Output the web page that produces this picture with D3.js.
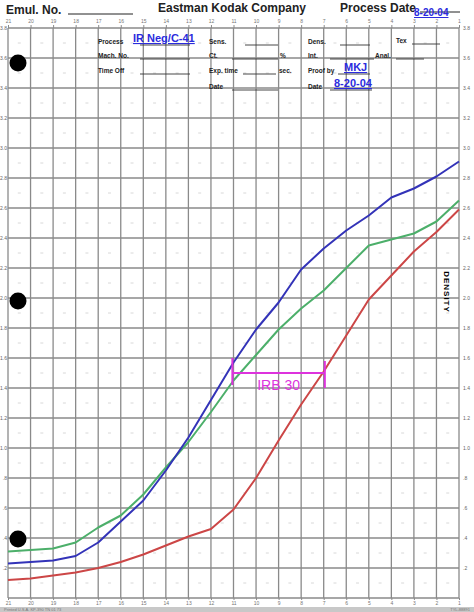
<!DOCTYPE html>
<html>
<head>
<meta charset="utf-8">
<script src="https://cdn.jsdelivr.net/npm/d3@7"></script>
<style>
  body { margin: 0; background: #fff; }
  svg { display: block; }
</style>
</head>
<body>
<div id="chart"></div>
<script>
// step numbers along the top / bottom
var steps = [21, 20, 19, 18, 17, 16, 15, 14, 13, 12, 11, 10, 9, 8, 7, 6, 5, 4, 3, 2, 1]
// density ticks
var densTicks = [0.2, 0.4, 0.6, 0.8, 1.0, 1.2, 1.4, 1.6, 1.8, 2.0, 2.2, 2.4, 2.6, 2.8, 3.0, 3.2, 3.4, 3.6, 3.8]
// densities read for each step (21 -> 1)
var blueDens  = [0.23, 0.24, 0.25, 0.28, 0.37, 0.51, 0.65, 0.85, 1.07, 1.32, 1.57, 1.79, 1.97, 2.19, 2.33, 2.45, 2.55, 2.67, 2.73, 2.81, 2.91]
var greenDens = [0.31, 0.32, 0.33, 0.37, 0.47, 0.55, 0.69, 0.87, 1.04, 1.24, 1.45, 1.62, 1.79, 1.93, 2.05, 2.20, 2.35, 2.39, 2.43, 2.51, 2.65]
var redDens   = [0.12, 0.13, 0.15, 0.17, 0.20, 0.24, 0.29, 0.35, 0.41, 0.46, 0.59, 0.80, 1.05, 1.29, 1.51, 1.75, 1.99, 2.15, 2.31, 2.44, 2.59]
// IRB bracket: density level and the two steps it spans
var irbLevel = 1.5
var irbSteps = [11.05, 6.95]

var w = 474, h = 612
var svg = d3.select("#chart").append("svg").attr("width", w).attr("height", h)

var x = d3.scaleLinear().domain([21, 1]).range([8, 459])
var y = d3.scaleLinear().domain([0, 3.8]).range([598, 28])

var gridCol = "#8a8a8a"
var font = "'Liberation Sans', Arial, sans-serif"

// grid
svg.append("g").selectAll("line.v")
    .data(steps).enter().append("line")
    .attr("x1", d => x(d)).attr("x2", d => x(d))
    .attr("y1", y(3.8)).attr("y2", y(0))
    .attr("stroke", gridCol).attr("stroke-width", 1.3)

svg.append("g").selectAll("line.h")
    .data([0].concat(densTicks)).enter().append("line")
    .attr("x1", x(21)).attr("x2", x(1))
    .attr("y1", d => y(d)).attr("y2", d => y(d))
    .attr("stroke", gridCol).attr("stroke-width", 1.3)

// faint half-step tick marks
var minor = []
steps.forEach(function(s) { densTicks.concat([0]).forEach(function(d) { if (s > 1 && d < 3.8) minor.push([s - 0.5, d + 0.1]) }) })
svg.append("g").selectAll("line.m")
    .data(minor).enter().append("line")
    .attr("x1", d => x(d[0]) - 1.5).attr("x2", d => x(d[0]) + 1.5)
    .attr("y1", d => y(d[1])).attr("y2", d => y(d[1]))
    .attr("stroke", "#d8d8d8").attr("stroke-width", 1)

// top and bottom step labels
var gTop = svg.append("g").attr("transform", "translate(0," + y(3.8) + ")")
    .call(d3.axisTop(x).tickValues(steps).tickSize(3).tickPadding(2).tickFormat(d3.format("d")))
var gBot = svg.append("g").attr("transform", "translate(0," + y(0) + ")")
    .call(d3.axisBottom(x).tickValues(steps).tickSize(2).tickPadding(1).tickFormat(d3.format("d")))
;[gTop, gBot].forEach(function(g) {
    g.select(".domain").remove()
    g.selectAll("line").attr("stroke", gridCol)
    g.selectAll("text").attr("font-size", 5).attr("fill", "#777").attr("font-family", font)
})

// density labels, left and right
var densFmt = function(d) { return d < 1 ? d3.format(".1f")(d).replace("0.", ".") : d3.format(".1f")(d) }
var gL = svg.append("g").attr("transform", "translate(" + x(21) + ",0)")
    .call(d3.axisLeft(y).tickValues(densTicks).tickSize(0).tickPadding(1).tickFormat(densFmt))
var gR = svg.append("g").attr("transform", "translate(" + x(1) + ",0)")
    .call(d3.axisRight(y).tickValues(densTicks).tickSize(0).tickPadding(4).tickFormat(densFmt))
;[gL, gR].forEach(function(g) {
    g.select(".domain").remove()
    g.selectAll("text").attr("font-size", 5).attr("fill", "#666").attr("font-family", font)
})

// curves
var line = d3.line().x((d, i) => x(steps[i])).y(d => y(d))
var series = [
    { vals: greenDens, col: "#4caf6a" },
    { vals: redDens, col: "#cc4646" },
    { vals: blueDens, col: "#3333b8" }
]
svg.append("g").selectAll("path")
    .data(series).enter().append("path")
    .attr("d", d => line(d.vals))
    .attr("fill", "none")
    .attr("stroke", d => d.col)
    .attr("stroke-width", 2)
    .attr("stroke-linejoin", "round")

// IRB 30 bracket
var mag = "#dd33dd"
var irb = svg.append("g").attr("stroke", mag).attr("stroke-width", 2)
irb.append("line").attr("x1", x(irbSteps[0])).attr("x2", x(irbSteps[1]))
    .attr("y1", y(irbLevel)).attr("y2", y(irbLevel))
irb.append("line").attr("x1", x(irbSteps[0])).attr("x2", x(irbSteps[0]))
    .attr("y1", y(irbLevel + 0.1)).attr("y2", y(irbLevel - 0.08))
irb.append("line").attr("x1", x(irbSteps[1])).attr("x2", x(irbSteps[1]))
    .attr("y1", y(irbLevel + 0.08)).attr("y2", y(irbLevel - 0.1))
svg.append("text")
    .attr("x", (x(irbSteps[0]) + x(irbSteps[1])) / 2).attr("y", y(irbLevel) + 17)
    .attr("text-anchor", "middle").attr("fill", mag)
    .attr("font-size", 14).attr("font-family", font)
    .text("IRB 30")

// axis title
svg.append("text")
    .attr("transform", "translate(444,292) rotate(90)")
    .attr("text-anchor", "middle")
    .attr("font-size", 8).attr("font-weight", "bold").attr("font-family", font)
    .attr("letter-spacing", 1)
    .text("DENSITY")

// header
var hdr = svg.append("g").attr("font-family", font).attr("font-weight", "bold").attr("fill", "#222")
hdr.append("text").attr("x", 6).attr("y", 14).attr("font-size", 12).text("Emul. No.")
hdr.append("line").attr("x1", 68).attr("x2", 133).attr("y1", 14).attr("y2", 14).attr("stroke", "#222")
hdr.append("text").attr("x", 158).attr("y", 12).attr("font-size", 12).text("Eastman Kodak Company")
hdr.append("text").attr("x", 340).attr("y", 12).attr("font-size", 12).text("Process Date")
hdr.append("line").attr("x1", 420).attr("x2", 460).attr("y1", 12).attr("y2", 12).attr("stroke", "#222")

// form fields inside the grid
var form = [
    { t: "Process", x: 98, y: 44, lx: [140, 190] },
    { t: "Mach. No.", x: 98, y: 58, lx: [140, 190] },
    { t: "Time Off", x: 98, y: 73, lx: [140, 190] },
    { t: "Sens.", x: 209, y: 44, lx: [245, 278] },
    { t: "Ct.", x: 209, y: 58, lx: [232, 278] },
    { t: "Exp. time", x: 209, y: 73, lx: [243, 276] },
    { t: "Date", x: 209, y: 89, lx: [232, 278] },
    { t: "Dens.", x: 308, y: 44, lx: [340, 370] },
    { t: "Int.", x: 308, y: 58, lx: [330, 374] },
    { t: "Proof by", x: 308, y: 73, lx: [338, 370] },
    { t: "Date", x: 308, y: 89, lx: [330, 372] },
    { t: "Tex", x: 396, y: 43, lx: [412, 440] },
    { t: "Anal.", x: 375, y: 58, lx: [396, 424] }
]
var fg = svg.append("g").attr("font-family", font).attr("font-weight", "bold").attr("fill", "#222")
form.forEach(function(f) {
    fg.append("text").attr("x", f.x).attr("y", f.y).attr("font-size", 6.5).text(f.t)
    fg.append("line").attr("x1", f.lx[0]).attr("x2", f.lx[1]).attr("y1", f.y + 1).attr("y2", f.y + 1)
        .attr("stroke", "#333").attr("stroke-width", 0.9)
})
fg.append("text").attr("x", 280).attr("y", 58).attr("font-size", 6.5).text("%")
fg.append("text").attr("x", 279).attr("y", 73).attr("font-size", 6.5).text("sec.")

// handwritten entries (blue)
var ink = "#2b2bdd"
var hw = [
    { t: "IR Neg/C-41", x: 133, y: 42, s: 11 },
    { t: "MKJ", x: 344, y: 71, s: 11 },
    { t: "8-20-04", x: 334, y: 87, s: 11 },
    { t: "8-20-04", x: 414, y: 16, s: 10 }
]
hw.forEach(function(d) {
    svg.append("text").attr("x", d.x).attr("y", d.y).attr("font-size", d.s)
        .attr("font-family", font).attr("font-weight", "bold").attr("fill", ink)
        .attr("text-decoration", "underline").text(d.t)
})

// punch holes
svg.selectAll("circle.hole")
    .data([63, 301, 539]).enter().append("circle")
    .attr("cx", 18).attr("cy", d => d).attr("r", 8.5).attr("fill", "#000")

// footer
svg.append("rect").attr("x", 0).attr("y", 607).attr("width", w).attr("height", 5).attr("fill", "#c8c8c8")
svg.append("text").attr("x", 4).attr("y", 611).attr("font-size", 4).attr("fill", "#777")
    .attr("font-family", font).text("Printed U.S.A.     KP-390 TN   01 73")
svg.append("text").attr("x", 470).attr("y", 611).attr("font-size", 4).attr("fill", "#777")
    .attr("text-anchor", "end").attr("font-family", font).text("TYL-88891")
</script>
</body>
</html>
